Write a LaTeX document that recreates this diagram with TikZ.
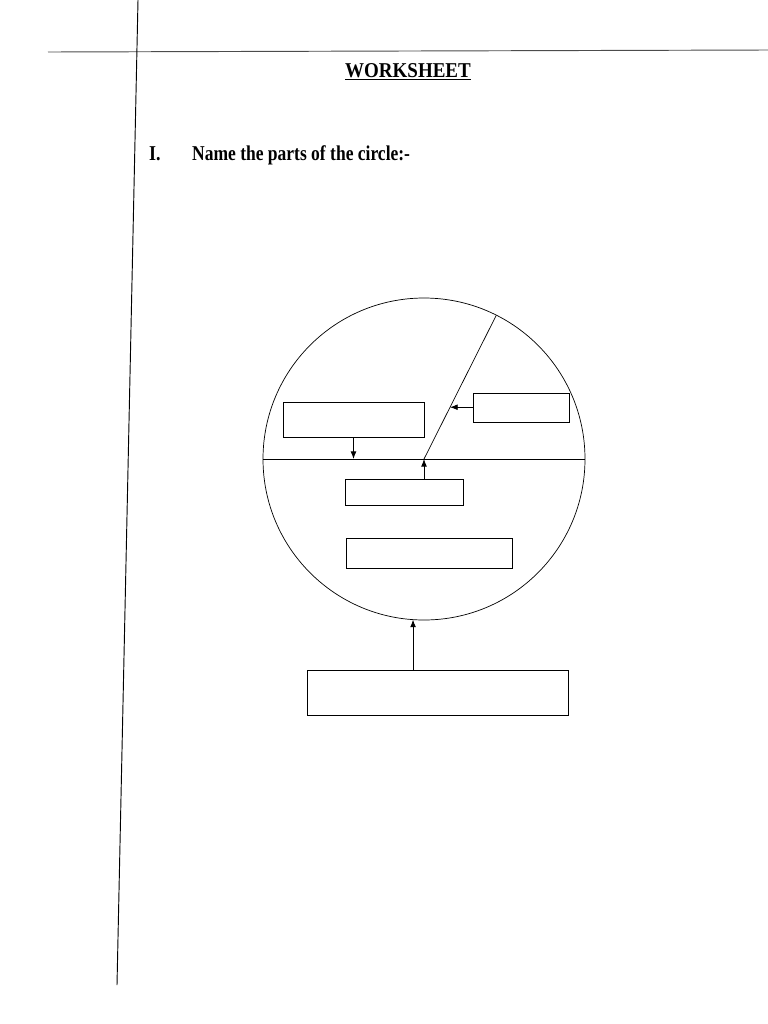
\documentclass[tikz,border=0pt]{standalone}
\usepackage{fontspec}
\setmainfont{Liberation Serif}
\usetikzlibrary{arrows.meta, fit, calc}

\tikzset{
  blank/.style={draw, line width=0.7pt, inner sep=0pt},
  ptr/.style={-{Latex[length=6.5pt,width=5pt]}, line width=0.7pt},
  head/.style={font=\fontsize{18}{20}\selectfont\bfseries},
}
\newcommand{\squeeze}[2]{\scalebox{#1}[1]{#2}}

\begin{document}
\begin{tikzpicture}[x=0.03cm, y=-0.03cm]
  \useasboundingbox (0,0) rectangle (768,1024);
  % page rules
  \draw[line width=0.8pt, black!70] (48,52) -- (768,50);
  \draw[line width=0.8pt] (138,0) -- (117,985);
  \node[head, anchor=base] (title) at (408,77) {\squeeze{0.9}{\underline{WORKSHEET}}};
  \node[head, anchor=base west] (qnum) at (145,160) {\squeeze{0.85}{I.}};
  \node[head, anchor=base west] (qtext) at (188,160) {\squeeze{0.83}{Name the parts of the circle:-}};

  % the circle
  \def\r{161}
  \coordinate (O) at (424,459);
  \draw[line width=0.6pt] (O) circle[radius=\r];
  \coordinate (L) at ($(O)+(-\r,0)$);
  \coordinate (R) at ($(O)+(\r,0)$);
  \coordinate (A) at ($(O)+(-63.3:\r)$);
  \coordinate (B) at ($(O)+(93.9:\r)$);
  \draw[line width=0.6pt] (L) -- (R);
  \draw[line width=0.6pt] (O) -- (A);
  \path (O) -- (A) coordinate[pos=0.36] (P);

  % answer boxes
  \node[blank, fit={(283,402) (424,437)}] (diam) {};
  \node[blank, fit={(473,393) (569,422)}] (rad) {};
  \node[blank, fit={(345,479) (463,505)}] (ctr) {};
  \node[blank, fit={(346,538) (512,568)}] (inner) {};
  \node[blank, fit={(307,670) (568,715)}] (circ) {};

  % pointers
  \draw[ptr] (diam.south) -- (diam.south |- O);
  \draw[ptr] (rad.west |- P) -- (P);
  \draw[ptr] (ctr.north -| O) -- (O);
  \draw[ptr] (circ.north -| B) -- (B);
\end{tikzpicture}
\end{document}
